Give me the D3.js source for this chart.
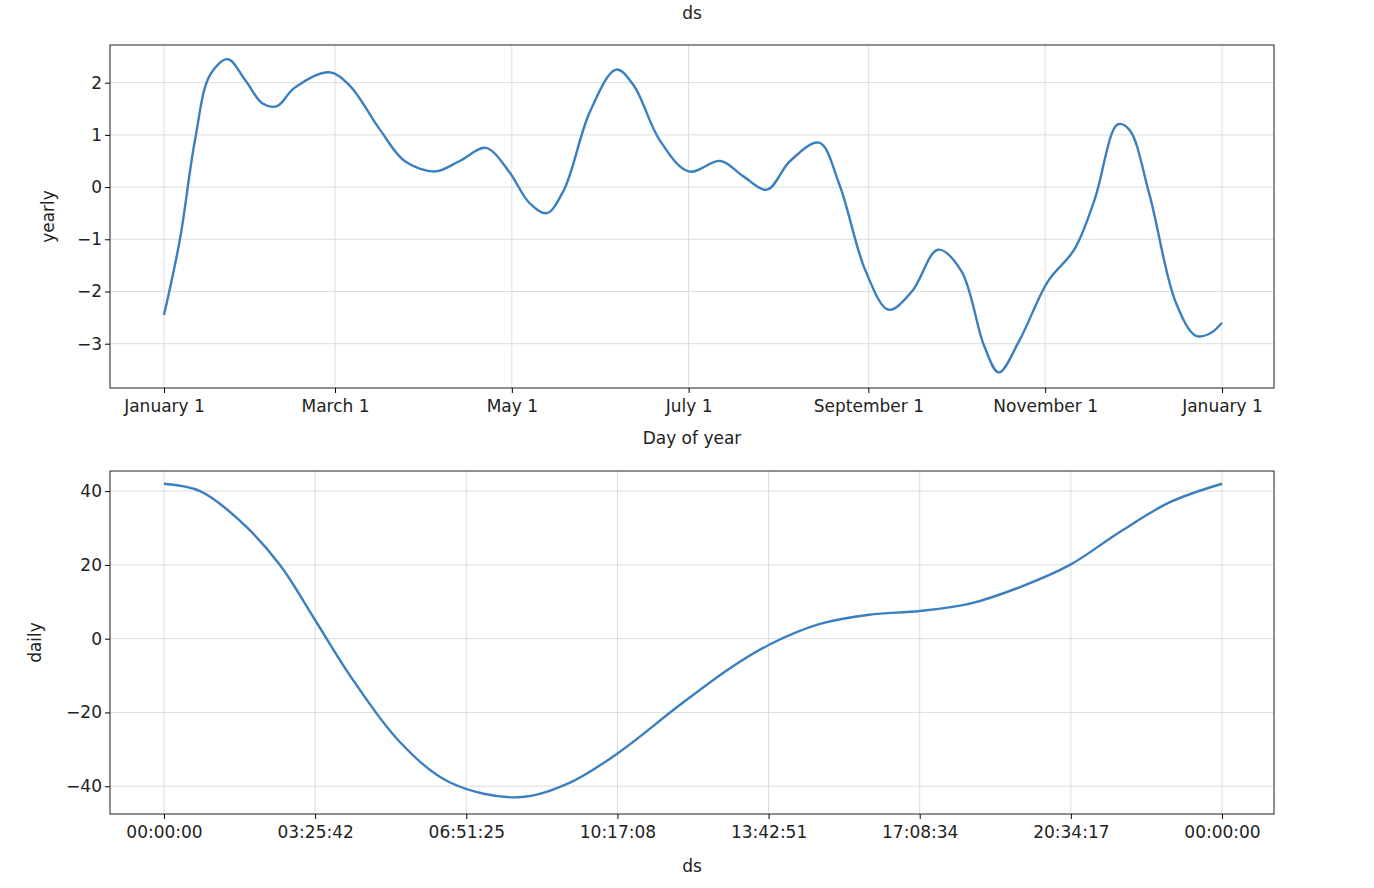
<!DOCTYPE html>
<html><head><meta charset="utf-8">
<script src="https://cdn.jsdelivr.net/npm/d3@7"></script>
<style>body{margin:0;background:#fff}text{font-family:"DejaVu Sans",sans-serif}</style>
</head><body><svg width="1374" height="888"></svg>
<script>
// yearly component: day of year -> value
var yearDays = [0,5.5,10.7,15.9,22,28,34,39,45,57,64,74.5,83,93.5,102,111,119,126,132,138,147,156,162,171,181,192,200,208,216,226,233,242,250,258,267,275,283,288,295,305,314,321,329,333,340,349,356,361,365];
var yearVals = [-2.45,-1.0,0.9,2.15,2.45,2.05,1.6,1.55,1.9,2.2,1.95,1.1,0.5,0.3,0.5,0.75,0.3,-0.3,-0.5,-0.05,1.45,2.25,1.95,0.9,0.3,0.5,0.2,-0.05,0.5,0.85,0.05,-1.6,-2.35,-2.0,-1.2,-1.6,-3.05,-3.55,-2.95,-1.8,-1.2,-0.25,1.2,1.1,-0.15,-2.2,-2.85,-2.8,-2.6];
var yearTickDays = [0,59,120,181,243,304,365];
var yearTickLabels = ["January 1","March 1","May 1","July 1","September 1","November 1","January 1"];

// daily component: hour -> value
var dayHours = [0,0.82,1.72,2.63,3.43,4.22,5.35,6.49,8.03,9.21,10.3,11.7,12.84,13.75,14.88,16.0,17.15,18.28,19.42,20.55,21.69,22.82,24];
var dayVals = [42,40,32,20,5,-10,-28,-39,-43,-39,-31,-18,-8,-1.5,4,6.5,7.5,9.5,14,20,29,37,42];
var dayTickHours = [0,24/7,48/7,72/7,96/7,120/7,144/7,24];
var dayTickLabels = ["00:00:00","03:25:42","06:51:25","10:17:08","13:42:51","17:08:34","20:34:17","00:00:00"];

var svg = d3.select("svg");
var left = 110, right = 1274;
var fs = 17;

function panel(top, bottom, xs, ys, xv, yv, xticks, xlabels, yticks, ylabel, xlabel, ylabX, xlabY) {
    var x = d3.scaleLinear().domain(xs).range([164, 1222]);
    var y = d3.scaleLinear().domain(ys).range([bottom, top]);
    var g = svg.append("g");
    g.append("g").selectAll("line").data(xticks).join("line")
        .attr("x1", d => x(d)).attr("x2", d => x(d)).attr("y1", top).attr("y2", bottom)
        .attr("stroke", "#ddd").attr("stroke-width", 1);
    g.append("g").selectAll("line").data(yticks).join("line")
        .attr("x1", left).attr("x2", right).attr("y1", d => y(d)).attr("y2", d => y(d))
        .attr("stroke", "#ddd").attr("stroke-width", 1);
    var line = d3.line().x((d, i) => x(xv[i])).y(d => y(d)).curve(d3.curveCatmullRom);
    g.append("path").attr("d", line(yv)).attr("fill", "none").attr("stroke", "#3a7fc0").attr("stroke-width", 2.4);
    g.append("rect").attr("x", left).attr("y", top).attr("width", right - left).attr("height", bottom - top)
        .attr("fill", "none").attr("stroke", "#222").attr("stroke-width", 1);
    var xa = d3.axisBottom(x).tickValues(xticks).tickFormat((d, i) => xlabels[i]).tickSize(5).tickSizeOuter(0);
    var xg = g.append("g").attr("transform", "translate(0," + bottom + ")").call(xa);
    xg.select(".domain").remove();
    xg.selectAll("text").attr("font-size", fs).attr("fill", "#222").attr("dy", "0.95em");
    var ya = d3.axisLeft(y).tickValues(yticks).tickFormat(d => d < 0 ? "\u2212" + Math.abs(d) : d).tickSize(5);
    var yg = g.append("g").attr("transform", "translate(" + left + ",0)").call(ya);
    yg.select(".domain").remove();
    yg.selectAll("text").attr("font-size", fs).attr("fill", "#222");
    g.append("text").attr("transform", "translate(" + ylabX + "," + (top + bottom) / 2 + ") rotate(-90)")
        .attr("text-anchor", "middle").attr("font-size", fs).attr("fill", "#222").text(ylabel);
    g.append("text").attr("x", (left + right) / 2).attr("y", xlabY).attr("text-anchor", "middle")
        .attr("font-size", fs).attr("fill", "#222").text(xlabel);
}

svg.append("text").attr("x", 692).attr("y", 19).attr("text-anchor", "middle").attr("font-size", fs).attr("fill", "#222").text("ds");
panel(45, 388, [0, 365], [-3.8484, 2.7215], yearDays, yearVals, yearTickDays, yearTickLabels, [-3,-2,-1,0,1,2], "yearly", "Day of year", 54, 444);
panel(471, 814, [0, 24], [-47.53, 45.46], dayHours, dayVals, dayTickHours, dayTickLabels, [-40,-20,0,20,40], "daily", "ds", 41, 872);
</script></body></html>
